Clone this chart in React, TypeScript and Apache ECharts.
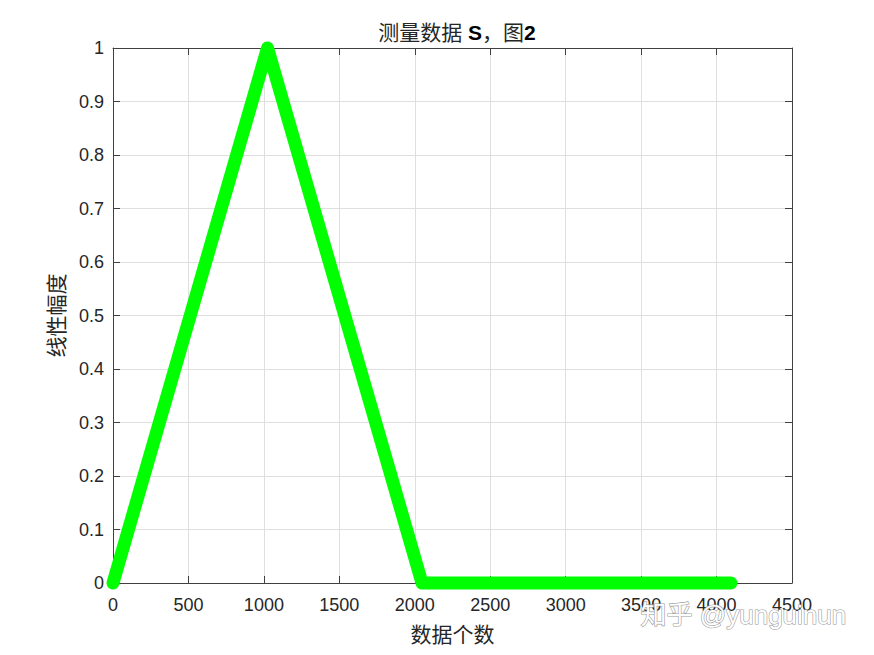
import React, { useEffect, useRef } from "react";
import * as echarts from "echarts";

const xValues = [0, 1024, 2048, 4096];
const yValues = [0, 1, 0, 0];
const xTicks = [0, 500, 1000, 1500, 2000, 2500, 3000, 3500, 4000, 4500];
const yTicks = [0, 0.1, 0.2, 0.3, 0.4, 0.5, 0.6, 0.7, 0.8, 0.9, 1];

const FONT = "'Liberation Sans', Arial, 'Noto Sans CJK SC', sans-serif";
const TXT = "#262626";
const AX = "#404040";

export default function App() {
  const ref = useRef<HTMLDivElement>(null);
  useEffect(() => {
    if (!ref.current) return;
    const chart = echarts.init(ref.current, undefined, { renderer: "svg" });
    const data = xValues.map((x, i) => [x, yValues[i]]);
    const axisCommon = {
      axisLine: { show: true, onZero: false, lineStyle: { color: AX, width: 1 } },
      axisTick: { show: true, inside: true, length: 7, lineStyle: { color: AX } },
      splitLine: { show: false },
    };
    chart.setOption({
      animation: false,
      backgroundColor: "#ffffff",
      title: {
        text: "{n|测量数据 }{b|S}{n|，图}{b|2}",
        left: 452,
        textAlign: "center",
        top: 17,
        textStyle: {
          fontWeight: "normal",
          rich: {
            n: { fontFamily: FONT, fontSize: 21, fontWeight: "normal", color: TXT },
            b: { fontFamily: FONT, fontSize: 21, fontWeight: "bold", color: "#000" },
          },
        },
      },
      grid: { left: 113, right: 82, top: 48, bottom: 72, containLabel: false },
      xAxis: [
        {
          type: "value",
          min: 0,
          max: 4500,
          interval: 500,
          position: "bottom",
          name: "数据个数",
          nameLocation: "middle",
          nameGap: 41,
          nameTextStyle: { fontFamily: FONT, fontSize: 21, color: TXT },
          axisLabel: {
            fontFamily: FONT,
            fontSize: 18,
            color: TXT,
            margin: 13,
            formatter: (v: number) => String(xTicks.includes(v) ? v : v),
          },
          ...axisCommon,
          splitLine: { show: true, lineStyle: { color: "#dfdfdf", width: 1 } },
        },
        {
          type: "value",
          min: 0,
          max: 4500,
          interval: 500,
          position: "top",
          axisLabel: { show: false },
          ...axisCommon,
        },
      ],
      yAxis: [
        {
          type: "value",
          min: 0,
          max: 1,
          interval: 0.1,
          position: "left",
          name: "线性幅度",
          nameLocation: "middle",
          nameGap: 46,
          nameRotate: 90,
          nameTextStyle: { fontFamily: FONT, fontSize: 21, color: TXT },
          axisLabel: {
            fontFamily: FONT,
            fontSize: 18,
            color: TXT,
            margin: 9,
            formatter: (v: number) => String(yTicks.find((t) => Math.abs(t - v) < 1e-9) ?? v),
          },
          ...axisCommon,
          splitLine: { show: true, lineStyle: { color: "#dfdfdf", width: 1 } },
        },
        {
          type: "value",
          min: 0,
          max: 1,
          interval: 0.1,
          position: "right",
          axisLabel: { show: false },
          ...axisCommon,
        },
      ],
      series: [
        {
          type: "line",
          data,
          xAxisIndex: 0,
          yAxisIndex: 0,
          showSymbol: false,
          symbol: "none",
          clip: false,
          lineStyle: { color: "#00ff00", width: 13, cap: "round", join: "round" },
        },
      ],
      graphic: [
        {
          type: "text",
          left: 640,
          top: 601,
          z: 100,
          style: {
            text: "知乎 @yunguinun",
            fontFamily: FONT,
            fontSize: 26,
            fill: "#ffffff",
            stroke: "#9a9a9a",
            lineWidth: 1.2,
          },
        },
      ],
    });
    return () => chart.dispose();
  }, []);
  return (
    <div
      ref={ref}
      style={{ position: "fixed", left: 0, top: 0, width: 874, height: 655, background: "#fff" }}
    />
  );
}
